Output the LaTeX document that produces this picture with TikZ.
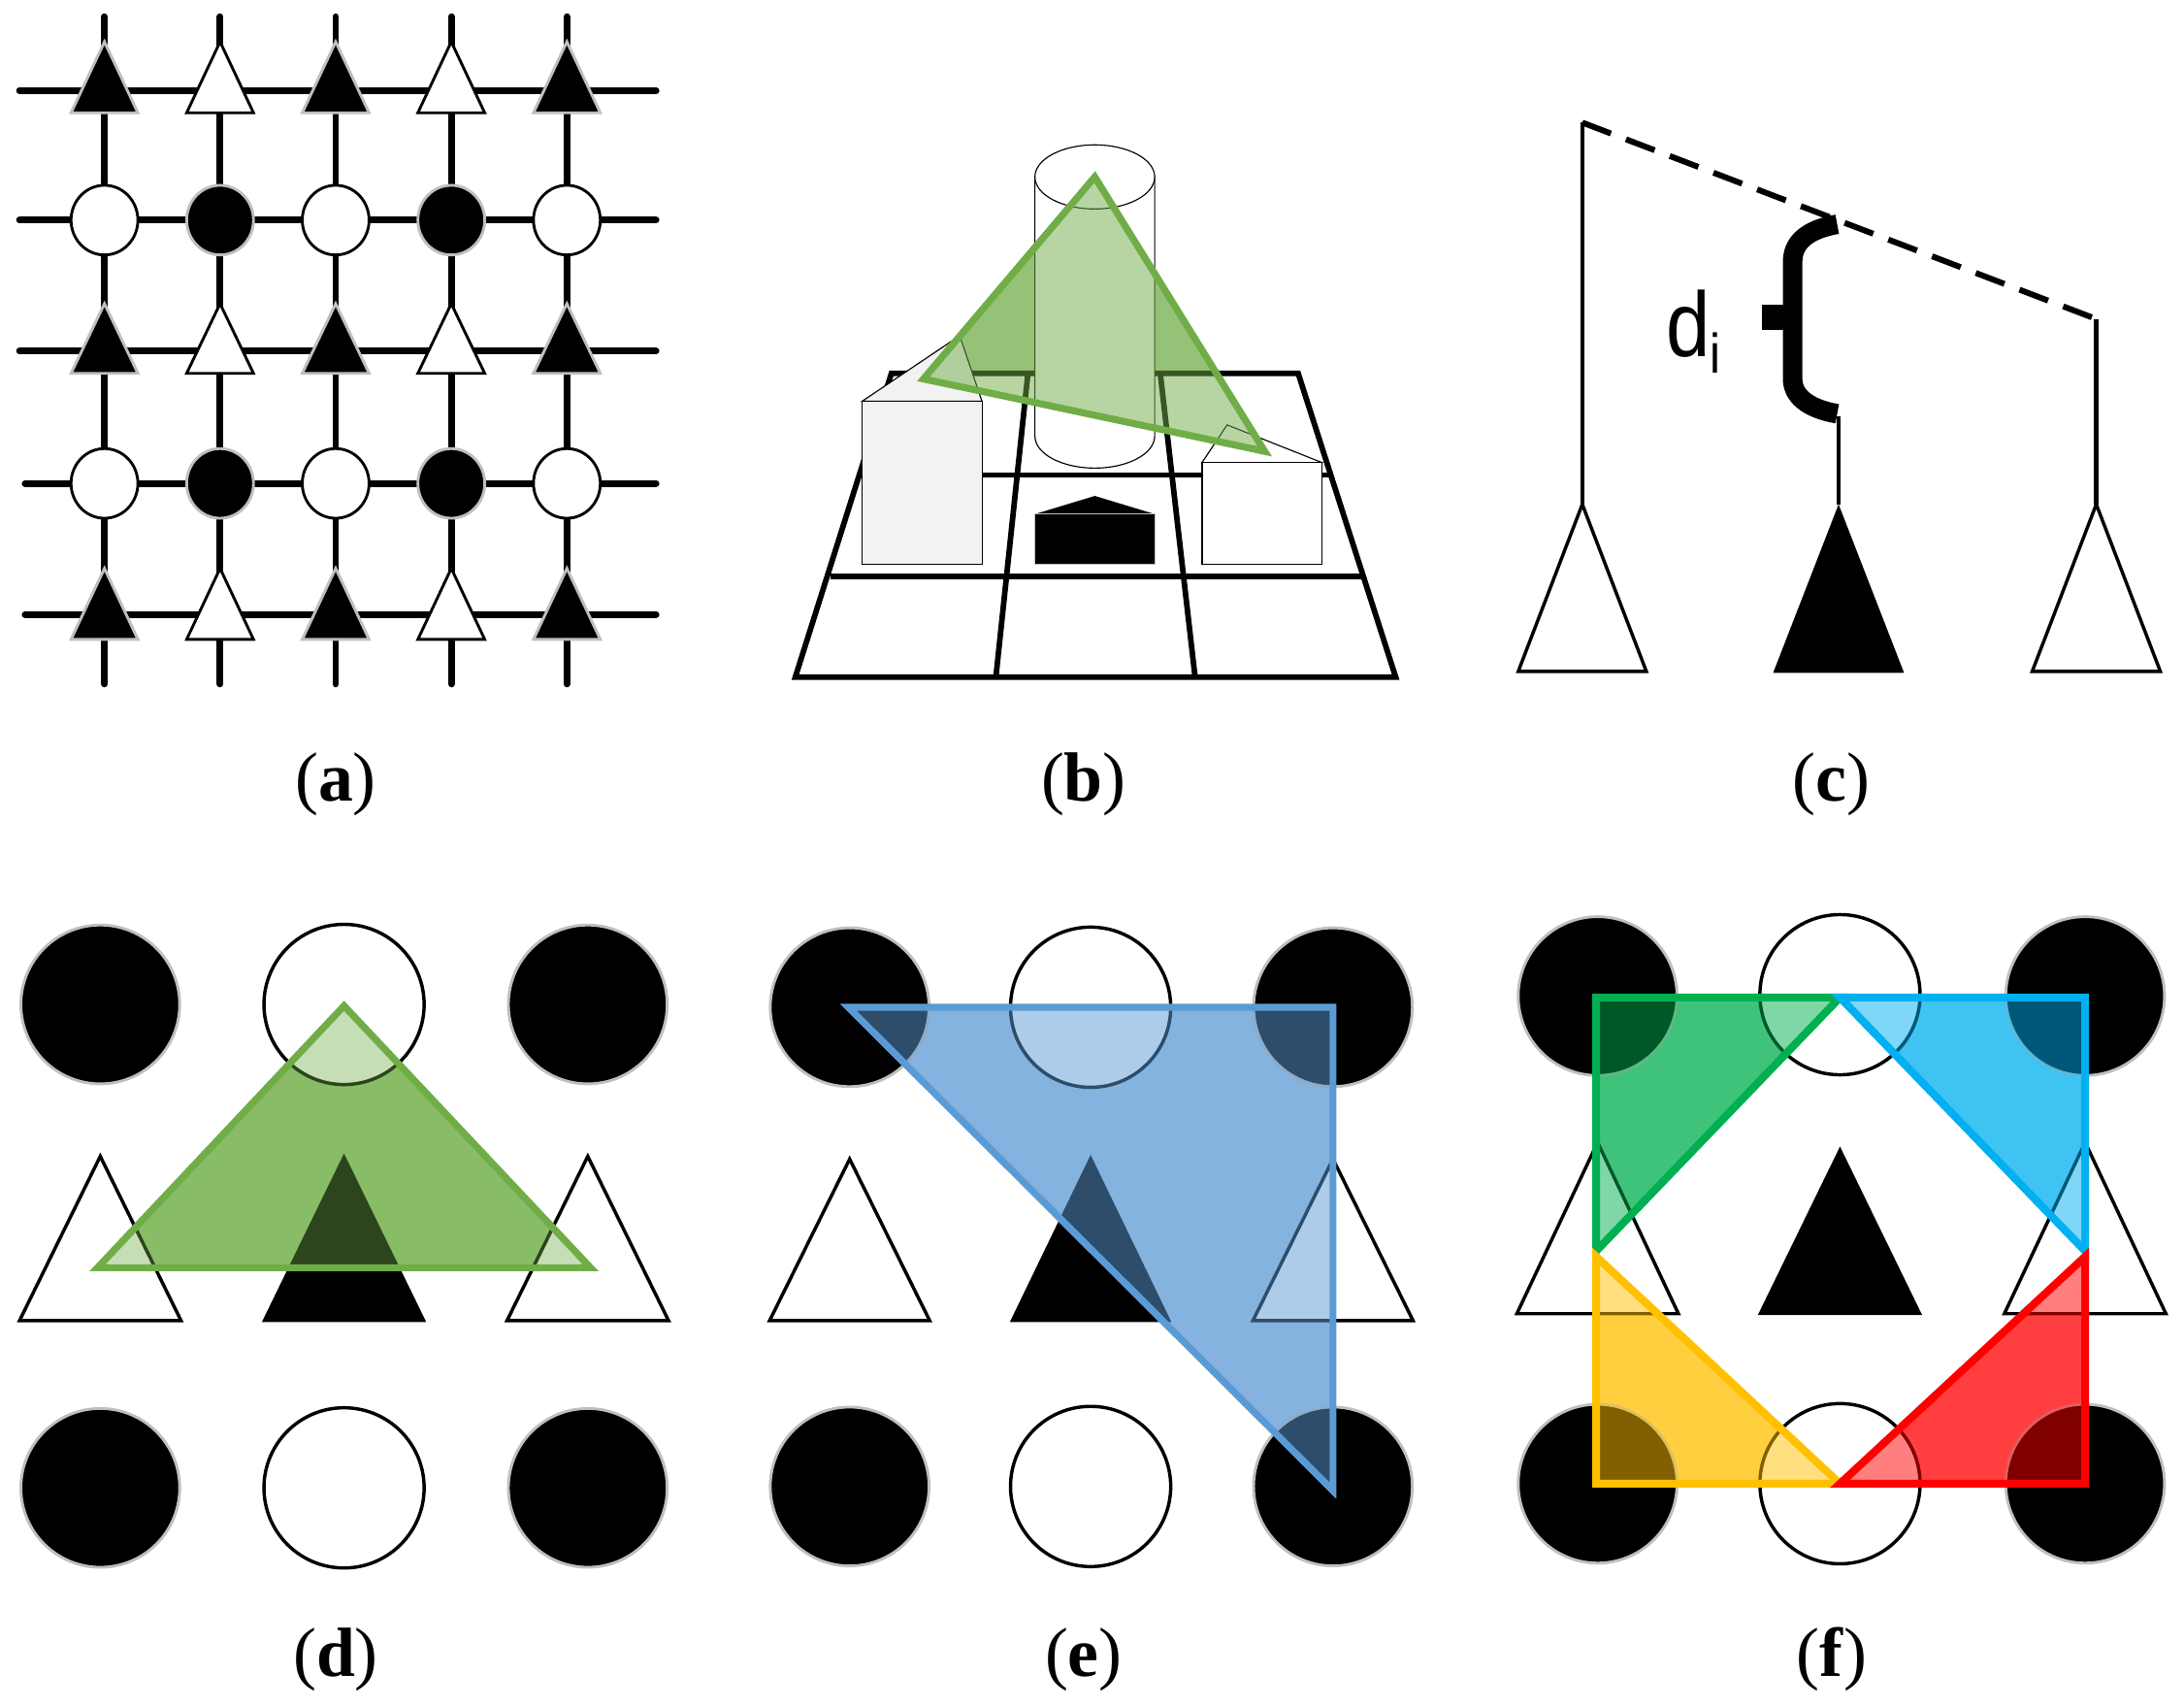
\documentclass[tikz,border=0pt]{standalone}
\usepackage{fontspec}
\setmainfont{Liberation Serif}
\newfontfamily\dfont{Liberation Sans}
\newcommand{\capfont}{\fontsize{25pt}{27pt}\selectfont}
\definecolor{grayedge}{HTML}{BFBFBF}
\definecolor{boxgray}{HTML}{F2F2F2}
\definecolor{leafgreen}{HTML}{70AD47}
\definecolor{leafunder}{HTML}{BED9A9}
\definecolor{leafunderd}{HTML}{98C67B}
\definecolor{skyblue}{HTML}{5B9BD5}
\definecolor{fgreen}{HTML}{00B050}
\definecolor{fblue}{HTML}{00B0F0}
\definecolor{fyellow}{HTML}{FFC000}
\definecolor{fred}{HTML}{FF0000}
\newcommand{\mytri}[5]{\path[#5] (#1,#2) -- ({#1+#4},#3) -- ({#1-#4},#3) -- cycle;}
\newcommand{\mycirc}[4]{\path[#4] (#1,#2) circle [radius=#3];}
\tikzset{
  blackshape/.style={fill=black,draw=grayedge,line width=1pt},
  whiteshape/.style={fill=white,draw=black,line width=1.2pt},
  gridline/.style={line width=2.4pt,line cap=round,black},
  persp/.style={line width=2pt,black,miter limit=10},
  thinbox/.style={draw=black,line width=.4pt},
  captext/.style={inner sep=0pt},
  colouredge/.style={line width=2.5pt,line join=miter,miter limit=10},
  colouredgef/.style={line width=2.8pt,line join=miter,miter limit=10},
}
\begin{document}
\begin{tikzpicture}[x=0.5pt,y=-0.5pt]
\useasboundingbox (0,0) rectangle (1568,1224);
\fill[white] (0,0) rectangle (1568,1224);

% ---------- (a)
\foreach \xa in {75,158,241,324,407} \draw[gridline] (\xa,12) -- (\xa,491);
\foreach \ya in {65,158,252} \draw[gridline] (14,\ya) -- (471,\ya);
\foreach \ya in {347,441} \draw[gridline] (18,\ya) -- (471,\ya);
\foreach \ap/\bs in {30/81,218/268,408/459}{
  \foreach \xa in {75,241,407} {\mytri{\xa}{\ap}{\bs}{24}{blackshape}}
  \foreach \xa in {158,324} {\mytri{\xa}{\ap}{\bs}{24}{whiteshape,line width=1pt}}
}
\foreach \ya in {158,347}{
  \foreach \xa in {75,241,407} {\path[whiteshape,line width=1pt] (\xa,\ya) ellipse [x radius=24,y radius=25];}
  \foreach \xa in {158,324} {\path[blackshape] (\xa,\ya) ellipse [x radius=24,y radius=25];}
}
\node[captext] (capa) at (241,563) {\capfont(\textbf{a})};

% ---------- (b)
\begin{scope}
  \clip (600,60) rectangle (1000,268);
  \fill[leafunder] (786,127) -- (908,324) -- (663,272) -- cycle;
\end{scope}
\draw[persp] (640,268) -- (932,268) -- (1002,486) -- (571,486) -- cycle;
\draw[persp] (738,268) -- (715,486);
\draw[persp] (833,268) -- (858,486);
\draw[persp] (618,341) -- (955,341);
\draw[persp] (596,414) -- (978,414);
% cylinder
\path[fill=white,thinbox] (743,127) -- (743,313) arc [start angle=180,end angle=0,x radius=43,y radius=23] -- (829,127) -- cycle;
\path[fill=white,thinbox] (786,127) ellipse [x radius=43,y radius=23];
% houses
\path[fill=boxgray,thinbox] (619,288) -- (689,241) -- (705,288) -- cycle;
\path[fill=boxgray,thinbox] (619,288) rectangle (705,405);
\path[fill=white,thinbox] (863,332) -- (881,305) -- (949,332) -- cycle;
\path[fill=white,thinbox] (863,332) rectangle (949,405);
\path[fill=black] (743,369) -- (786,356) -- (829,369) -- cycle;
\path[fill=black,draw=grayedge,line width=.4pt] (743,369) rectangle (829,405);
% overlay
\fill[leafgreen,opacity=.5] (786,127) -- (908,324) -- (663,272) -- cycle;
\draw[leafgreen,colouredge] (786,127) -- (908,324) -- (663,272) -- cycle;
\node[captext] (capb) at (778,563) {\capfont(\textbf{b})};

% ---------- (c)
\draw[line width=1.5pt] (1136,88) -- (1136,362);
\draw[line width=1.5pt] (1320,299) -- (1320,362);
\draw[line width=1.5pt] (1505,229) -- (1505,362);
\draw[line width=2.1pt,dash pattern=on 11pt off 5.8pt] (1136,88) -- (1505,229);
\mytri{1136}{362}{482}{46}{whiteshape}
\mytri{1320}{362}{483}{47}{fill=black}
\mytri{1505}{362}{482}{46}{whiteshape}
\draw[line width=7pt] (1319,161) .. controls (1296,165) and (1287,175) .. (1287,188) -- (1287,272) .. controls (1287,283) and (1296,293) .. (1319,297);
\fill (1265,219) rectangle (1282,237);
\node[inner sep=0pt,anchor=base west] (di) at (1196,256) {\dfont\scalebox{.86}[1]{\fontsize{33pt}{35pt}\selectfont d\raisebox{-6pt}{\fontsize{20pt}{21pt}\selectfont i}}};
\node[captext] (capc) at (1315,563) {\capfont(\textbf{c})};

% ---------- (d)
\fill[leafunderd] (247,722) -- (424,910) -- (70,910) -- cycle;
\foreach \ya in {721,1068}{
  \mycirc{72}{\ya}{57}{blackshape}
  \mycirc{247}{\ya}{57.5}{whiteshape}
  \mycirc{422}{\ya}{57}{blackshape}
}
\mytri{72}{830}{948}{58}{whiteshape}
\mytri{247}{828}{949}{59}{fill=black}
\mytri{422}{830}{948}{58}{whiteshape}
\fill[leafgreen,opacity=.4] (247,722) -- (424,910) -- (70,910) -- cycle;
\draw[leafgreen,colouredge] (247,722) -- (424,910) -- (70,910) -- cycle;
\node[captext] (capd) at (241,1191) {\capfont(\textbf{d})};

% ---------- (e)
\fill[skyblue,opacity=.5] (609,723) -- (957,723) -- (957,1070) -- cycle;
\foreach \ya in {723,1067}{
  \mycirc{610}{\ya}{57}{blackshape}
  \mycirc{783}{\ya}{57.5}{whiteshape}
  \mycirc{957}{\ya}{57}{blackshape}
}
\mytri{610}{832}{948}{57.5}{whiteshape}
\mytri{783}{829}{949}{58}{fill=black}
\mytri{957}{832}{948}{57.5}{whiteshape}
\fill[skyblue,opacity=.5] (609,723) -- (957,723) -- (957,1070) -- cycle;
\draw[skyblue,colouredge] (609,723) -- (957,723) -- (957,1070) -- cycle;
\node[captext] (cape) at (778,1191) {\capfont(\textbf{e})};

% ---------- (f)
\fill[fgreen,opacity=.5] (1146,716) -- (1321,716) -- (1146,898) -- cycle;
\fill[fblue,opacity=.5] (1321,716) -- (1497,716) -- (1497,898) -- cycle;
\fill[fyellow,opacity=.5] (1146,902) -- (1146,1065) -- (1321,1065) -- cycle;
\fill[fred,opacity=.5] (1497,902) -- (1497,1065) -- (1321,1065) -- cycle;
\foreach \ya/\yb in {715/714,1065/1065}{
  \mycirc{1147}{\ya}{57}{blackshape}
  \mycirc{1321}{\yb}{57.5}{whiteshape}
  \mycirc{1497}{\ya}{57}{blackshape}
}
\mytri{1147}{820}{943}{58}{whiteshape}
\mytri{1321}{823}{944}{59}{fill=black}
\mytri{1497}{820}{943}{58}{whiteshape}
\fill[fgreen,opacity=.5] (1146,716) -- (1321,716) -- (1146,898) -- cycle;
\fill[fblue,opacity=.5] (1321,716) -- (1497,716) -- (1497,898) -- cycle;
\fill[fyellow,opacity=.5] (1146,902) -- (1146,1065) -- (1321,1065) -- cycle;
\fill[fred,opacity=.5] (1497,902) -- (1497,1065) -- (1321,1065) -- cycle;
\draw[fgreen,colouredgef] (1146,716) -- (1321,716) -- (1146,898) -- cycle;
\draw[fblue,colouredgef] (1321,716) -- (1497,716) -- (1497,898) -- cycle;
\draw[fyellow,colouredgef] (1146,902) -- (1146,1065) -- (1321,1065) -- cycle;
\draw[fred,colouredgef] (1497,902) -- (1497,1065) -- (1321,1065) -- cycle;
\node[captext] (capf) at (1315,1191) {\capfont(\textbf{f})};
\end{tikzpicture}
\end{document}
